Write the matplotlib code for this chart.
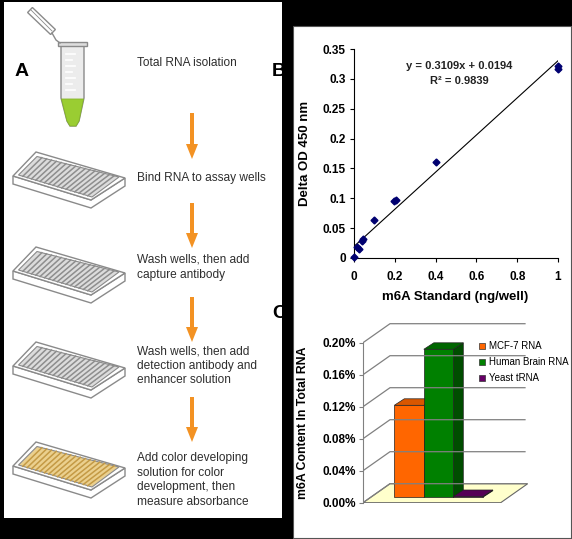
import numpy as np
import matplotlib
matplotlib.use("Agg")
import matplotlib.pyplot as plt
from matplotlib.patches import Polygon, Rectangle, Patch

plt.rcParams['font.family'] = ['Liberation Sans', 'DejaVu Sans']

# ---- panel B: standard curve
std_ng = [0.0, 0.016, 0.025, 0.04, 0.045, 0.1, 0.195, 0.205, 0.4, 1.0, 1.0]
delta_od = [0.001, 0.018, 0.015, 0.029, 0.031, 0.064, 0.096, 0.097, 0.161, 0.321, 0.317]
fit_slope = 0.3109
fit_intercept = 0.0194
fit_r2 = 0.9839
od_ticks = [0, 0.05, 0.1, 0.15, 0.2, 0.25, 0.3, 0.35]
od_labels = ["0", "0.05", "0.1", "0.15", "0.2", "0.25", "0.3", "0.35"]
ng_ticks = [0, 0.2, 0.4, 0.6, 0.8, 1]
ng_labels = ["0", "0.2", "0.4", "0.6", "0.8", "1"]

# ---- panel C: m6A content
samples = ["MCF-7 RNA", "Human Brain RNA", "Yeast tRNA"]
m6a_pct = [0.115, 0.185, 0.001]
pct_ticks = [0.0, 0.04, 0.08, 0.12, 0.16, 0.20]
pct_labels = ["0.00%", "0.04%", "0.08%", "0.12%", "0.16%", "0.20%"]

# ---- panel A: workflow steps
steps = [
    ["Total RNA isolation"],
    ["Bind RNA to assay wells"],
    ["Wash wells, then add", "capture antibody"],
    ["Wash wells, then add", "detection antibody and", "enhancer solution"],
    ["Add color developing", "solution for color", "development, then", "measure absorbance"],
]
step_y = [63, 178, 260, 351, 458]

W, H = 572, 539
fig = plt.figure(figsize=(W / 100, H / 100), dpi=100, facecolor="black")
bg = fig.add_axes([0, 0, 1, 1])
bg.set_xlim(0, W)
bg.set_ylim(H, 0)
bg.axis("off")


def px_axes(x0, y0, x1, y1):
    return fig.add_axes([x0 / W, 1 - y1 / H, (x1 - x0) / W, (y1 - y0) / H])


# white panels
bg.add_patch(Rectangle((4, 2), 278, 516, fc="white", ec="none"))
bg.add_patch(Rectangle((293, 26), 278, 512, fc="white", ec="#555555", lw=0.8))

# ---- panel A drawing
ORANGE = "#f39223"
GREY = "#8a8a8a"

# tube cap, hinge and body
bg.add_patch(Polygon([(32.4, 7.5), (55.4, 29.5), (50.6, 34.5), (27.6, 12.5)],
                     fc="white", ec=GREY, lw=1))
bg.plot([31, 52], [10, 31], color=GREY, lw=0.6)
bg.plot([52, 56, 60], [33, 40, 43], color=GREY, lw=1)
body = [(61, 46), (84, 46), (84, 98), (79, 121), (76, 126), (70, 126), (67, 121), (61, 98)]
bg.add_patch(Polygon(body, fc="#ececec", ec=GREY, lw=1))
liquid = [(61.5, 99), (83.5, 99), (79, 121), (76, 126), (70, 126), (67, 121)]
bg.add_patch(Polygon(liquid, fc="#9acd32", ec="#86b52a", lw=0.6))
bg.add_patch(Rectangle((58, 42), 29, 4, fc="#dddddd", ec=GREY, lw=1))
for k, gy in enumerate(range(54, 96, 6)):
    bg.plot([66, 72 if k % 2 else 75], [gy, gy], color="white", lw=1.2)


def draw_plate(oy, face, stripe):
    skirt = [(13, 176 + oy), (13, 184 + oy), (91, 208 + oy), (125, 186 + oy),
             (125, 178 + oy), (91, 200 + oy)]
    bg.add_patch(Polygon(skirt, fc="white", ec=GREY, lw=1))
    rim = [(13, 176 + oy), (36, 152 + oy), (125, 178 + oy), (91, 200 + oy)]
    bg.add_patch(Polygon(rim, fc="white", ec=GREY, lw=1))
    p1 = np.array([18.5, 175 + oy])
    p2 = np.array([37, 156.5 + oy])
    p3 = np.array([119, 177 + oy])
    p4 = np.array([92, 197 + oy])
    bg.add_patch(Polygon([p1, p2, p3, p4], fc=face, ec=GREY, lw=0.8))
    n = 16
    for k in range(1, n + 1):
        t = k / (n + 1)
        a = p1 + (p4 - p1) * t
        b = p2 + (p3 - p2) * t
        bg.plot([a[0], b[0]], [a[1], b[1]], color=stripe, lw=1.1)


plate_offsets = [0, 95, 190, 290]
for k, oy in enumerate(plate_offsets):
    if k == 3:
        draw_plate(oy, "#ebd08e", "#c49a45")
    else:
        draw_plate(oy, "#dcdcdc", "#8e8e8e")

# arrows
for y0, y1 in [(113, 159), (203, 248), (297, 342), (397, 442)]:
    head = y1 - 15
    bg.add_patch(Polygon([(190, y0), (194, y0), (194, head), (198, head), (192, y1),
                          (186, head), (190, head)], fc=ORANGE, ec="none"))

for lines, y in zip(steps, step_y):
    for j, line in enumerate(lines):
        bg.text(137, y + j * 14.6, line, fontsize=8.6, color="#2e2e2e",
                va="center", ha="left")

# panel letters
bg.text(15, 72, "A", fontsize=14, fontweight="bold", va="center", ha="left")
bg.text(272, 72, "B", fontsize=14, fontweight="bold", va="center", ha="left")
bg.text(272, 313, "C", fontsize=14, fontweight="bold", va="center", ha="left")
bg.add_patch(Rectangle((282, 0), 11, H, fc="black", ec="none", zorder=5))

# ---- panel B
axb = px_axes(354, 49, 558, 258)
axb.plot(std_ng, delta_od, linestyle="none", marker="D", ms=3.5, color="#000070",
         clip_on=False, zorder=3)
fx = np.array([0.0, 1.0])
axb.plot(fx, fit_slope * fx + fit_intercept, color="black", lw=0.8)
axb.set_xlim(0, 1)
axb.set_ylim(0, 0.35)
axb.set_xticks(ng_ticks)
axb.set_xticklabels(ng_labels)
axb.set_yticks(od_ticks)
axb.set_yticklabels(od_labels)
for s in ["top", "right"]:
    axb.spines[s].set_visible(False)
for s in ["left", "bottom"]:
    axb.spines[s].set_linewidth(0.8)
axb.tick_params(labelsize=8.5, length=3, width=0.8, pad=3)
axb.tick_params(axis="x", pad=6)
for lab in axb.get_xticklabels() + axb.get_yticklabels():
    lab.set_fontweight("bold")
axb.set_ylabel("Delta OD 450 nm", fontsize=9.5, fontweight="bold")
axb.yaxis.set_label_coords(-0.21, 0.5)
axb.set_xlabel("m6A Standard (ng/well)", fontsize=9.5, fontweight="bold")
axb.xaxis.set_label_coords(0.495, -0.16)
axb.text(0.515, 0.321, f"y = {fit_slope}x + {fit_intercept}", fontsize=8,
         fontweight="bold", ha="center", va="center", color="#222222")
axb.text(0.515, 0.296, f"R² = {fit_r2}", fontsize=8,
         fontweight="bold", ha="center", va="center", color="#222222")

# ---- panel C (pseudo 3D)
PXY = 800.0  # pixels per percent unit
axc = px_axes(363, 318, 533, 502.7)
axc.set_xlim(0, 170)
axc.set_ylim(0, 184.7 / PXY)
DX, DY = 27, 19 / PXY
WALL_R = 162
FLOOR_R = 137.7
axc.add_patch(Polygon([(0, 0), (FLOOR_R, 0), (FLOOR_R + DX, DY), (DX, DY)],
                      fc="#ffffcc", ec="#666666", lw=0.8))
for t in pct_ticks:
    axc.plot([0, DX, WALL_R], [t, t + DY, t + DY], color="#808080", lw=0.9)

BW = 29.5
BAR_X0 = 31.3
BASE = 5.4 / PXY
BDX, BDY = 10, 6.5 / PXY
front_cols = ["#ff6600", "#008000", "#660066"]
side_cols = ["#b84a00", "#004d00", "#440044"]
top_cols = ["#d95700", "#006600", "#550055"]
for i, v in enumerate(m6a_pct):
    x0 = BAR_X0 + i * BW
    x1 = x0 + BW
    top = BASE + v
    axc.add_patch(Polygon([(x1, BASE), (x1 + BDX, BASE + BDY), (x1 + BDX, top + BDY), (x1, top)],
                          fc=side_cols[i], ec="#222222", lw=0.5))
    axc.add_patch(Polygon([(x0, top), (x1, top), (x1 + BDX, top + BDY), (x0 + BDX, top + BDY)],
                          fc=top_cols[i], ec="#222222", lw=0.5))
    axc.add_patch(Rectangle((x0, BASE), BW, v, fc=front_cols[i], ec="#222222", lw=0.5))

for s in ["top", "right", "bottom"]:
    axc.spines[s].set_visible(False)
axc.spines["left"].set_bounds(0, 0.2)
axc.spines["left"].set_color("#808080")
axc.set_xticks([])
axc.set_yticks(pct_ticks)
axc.set_yticklabels(pct_labels)
axc.tick_params(axis="y", labelsize=8.5, length=3, color="#808080", pad=2)
for lab in axc.get_yticklabels():
    lab.set_fontweight("bold")
axc.set_ylabel("m6A Content In Total RNA", fontsize=8.8, fontweight="bold")
axc.yaxis.set_label_coords(-0.32, 0.434)
axc.patch.set_visible(False)
handles = [Patch(fc=c, ec="#333333", lw=0.5) for c in front_cols]
axc.legend(handles, samples, loc="upper left", bbox_to_anchor=(0.685, 0.875),
           frameon=False, fontsize=7, handlelength=0.6, handleheight=0.6,
           handletextpad=0.4, labelspacing=0.62, borderpad=0, borderaxespad=0)

fig.savefig("out.png", dpi=100, facecolor="black")
